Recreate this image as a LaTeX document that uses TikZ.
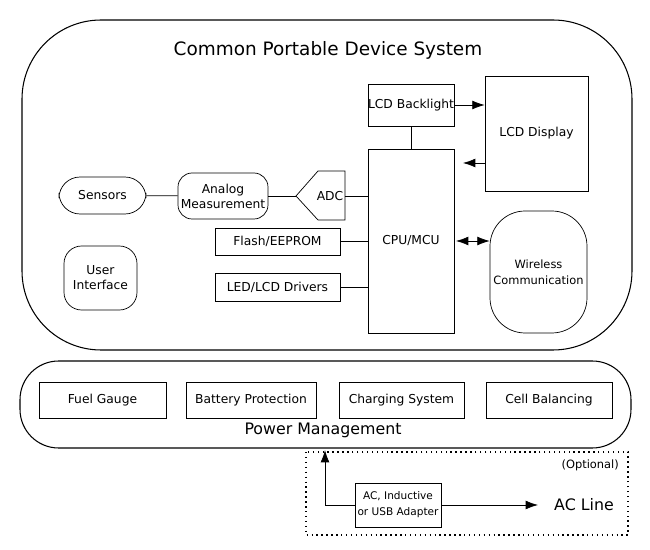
\documentclass[tikz,border=0pt]{standalone}
\usepackage{fontspec}
\setmainfont{DejaVu Sans}
\usetikzlibrary{positioning,arrows.meta}
\newcommand{\pu}{0.02cm}
\tikzset{
	blk/.style={draw=black, thin, solid, inner sep=0pt, font=\fontsize{7}{8.5}\selectfont, align=center},
	rblk/.style={blk, rounded corners=#1},
	sz/.style 2 args={minimum width=#1*\pu, minimum height=#2*\pu},
	link/.style={draw=black, thin},
	arr/.style={draw=black, thin, -{Latex[length=7pt,width=5pt]}},
}
\begin{document}
\begin{tikzpicture}[x=0.02cm, y=-0.02cm]
	\useasboundingbox (0,0) rectangle (650,550);
	% device system
	\draw[draw=black, semithick, rounded corners=45pt] (22,20) rectangle (632,350);
	\node[font=\fontsize{10.5}{12}\selectfont] (title) at (328,50) {Common Portable Device System};
	\node[blk, sz={86}{42}] (back) at (411,105) {LCD Backlight};
	\node[blk, sz={103}{115}] (disp) at (536.5,133.5) {LCD Display};
	\node[blk, sz={86}{184}] (cpu) at (411,241) {CPU/MCU};
	\node[rblk=12pt, sz={87}{37}] (sens) at (102.5,195.5) {Sensors};
	\node[rblk=8pt, sz={90}{46}] (anal) at (223,196) {Analog\\Measurement};
	\node[font=\fontsize{7}{8.5}\selectfont] (adc) at (330,196) {ADC};
	\coordinate (adcw) at (296,196);
	\coordinate (adce) at (345,196);
	\draw[draw=black, thin] (adcw) -- (318,171) -- (345,171) -- (345,220) -- (318,220) -- cycle;
	\node[blk, sz={125}{27}] (flash) at (277.5,241.5) {Flash/EEPROM};
	\node[blk, sz={125}{28}] (led) at (277.5,287) {LED/LCD Drivers};
	\node[rblk=10pt, sz={73}{64}] (ui) at (100.5,278) {User\\Interface};
	\node[rblk=20pt, sz={97}{122}, font=\fontsize{6.5}{9}\selectfont] (wire) at (538.5,272) {Wireless\\Communication};
	\coordinate (dispin) at (463,163);
	\coordinate (cpuout) at (456,241);
	% links
	\draw[link] (back) -- (cpu);
	\draw[arr] (back.east) -- (back.east -| disp.west);
	\draw[arr] (disp.west |- dispin) -- (dispin);
	\draw[link] (sens) -- (anal);
	\draw[link] (anal) -- (adcw);
	\draw[link] (adce) -- (adce -| cpu.west);
	\draw[link] (flash) -- (flash -| cpu.west);
	\draw[link] (led) -- (led -| cpu.west);
	\draw[draw=black, thin, {Latex[length=7pt,width=5pt]}-{Latex[length=7pt,width=5pt]}] (cpuout) -- (cpuout -| wire.west);
	% power management
	\draw[draw=black, semithick, rounded corners=22pt] (20,361) rectangle (631,448);
	\node[blk, sz={127}{36}] (fuel) at (102.5,400) {Fuel Gauge};
	\node[blk, sz={130}{36}] (bat) at (251,400) {Battery Protection};
	\node[blk, sz={125}{36}] (chg) at (401.5,400) {Charging System};
	\node[blk, sz={126}{36}] (cell) at (549,400) {Cell Balancing};
	\node[font=\fontsize{9}{10}\selectfont] (pm) at (323,430) {Power Management};
	\coordinate (pmin) at (325,450);
	% optional adapter
	\draw[draw=black, thick, dotted] (306,452) rectangle (628,535);
	\node[font=\fontsize{6.5}{8}\selectfont, anchor=east] (opt) at (625,465) {(Optional)};
	\node[blk, sz={86}{44}, font=\fontsize{6}{9}\selectfont] (adp) at (398,505) {AC, Inductive\\or USB Adapter};
	\node[font=\fontsize{9}{10}\selectfont, anchor=west] (acl) at (548,505) {AC Line};
	\coordinate (aclin) at (538,505);
	\draw[arr] (adp.west) -| (pmin);
	\draw[arr] (adp.east) -- (aclin);
\end{tikzpicture}
\end{document}
